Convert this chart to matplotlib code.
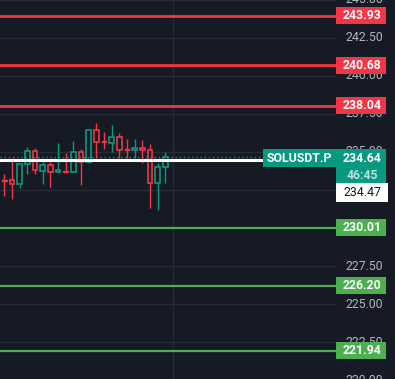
import numpy as np
import matplotlib.pyplot as plt
from matplotlib.patches import Rectangle

# candle data
opens = [233.16, 233.14, 232.88, 234.19, 235.07, 233.77, 234.13, 233.67, 233.80, 233.71, 234.98,
         234.36, 236.44, 235.72, 235.61, 235.97, 235.20, 235.11, 235.24, 235.11, 232.94, 233.99]
closes = [233.12, 232.88, 234.19, 235.07, 233.80, 234.15, 233.71, 233.82, 233.69, 234.98, 234.36,
          236.44, 235.68, 235.71, 235.98, 235.15, 235.19, 235.26, 235.11, 232.94, 233.99, 234.64]
highs = [233.54, 234.59, 234.22, 235.33, 235.26, 234.41, 234.56, 235.59, 234.95, 235.72, 235.20,
         236.44, 236.90, 236.31, 236.77, 236.25, 235.85, 235.85, 235.79, 235.53, 234.26, 234.98]
lows = [232.13, 231.89, 232.66, 233.57, 233.57, 232.92, 232.72, 233.67, 233.69, 233.71, 232.83,
        234.30, 234.59, 235.22, 235.02, 234.63, 234.59, 234.63, 234.30, 231.34, 231.19, 232.94]

# horizontal levels
resistance = [243.93, 240.68, 238.04]
support = [230.01, 226.20, 221.94]
last_price = 234.64
mark_price = 234.47
countdown = "46:45"
symbol = "SOLUSDT.P"
tick_prices = [220.0, 222.5, 225.0, 227.5, 230.0, 232.5, 235.0, 237.5, 240.0, 242.5, 245.0]

BG = "#161a25"
GRID = "#262a35"
RED = "#f23645"
TEAL = "#089981"
LGREEN = "#4caf50"
TXT = "#b2b5be"

W, H = 395, 379
Y0, Y1 = 220.09, 244.98
PPU = H / (Y1 - Y0)  # pixels per price unit

plt.rcParams['font.family'] = ['Roboto', 'DejaVu Sans']

fig = plt.figure(figsize=(W / 100, H / 100), dpi=100, facecolor=BG)
ax = fig.add_axes([0, 0, 336 / W, 1], facecolor=BG)
ax2 = fig.add_axes([336 / W, 0, 59 / W, 1], facecolor=BG)

ax.set_xlim(-0.56, 43.25)
ax.set_ylim(Y0, Y1)
ax2.set_xlim(0, 59)
ax2.set_ylim(Y0, Y1)
for a in (ax, ax2):
    a.set_xticks([])
    a.set_yticks([])
    for s in a.spines.values():
        s.set_visible(False)

# grid
for p in tick_prices:
    ax.axhline(p, color=GRID, lw=1, zorder=0)
ax.axvline(22, color=GRID, lw=1, zorder=0)

# candles
x = np.arange(len(opens))
for i in x:
    o, c, h, l = opens[i], closes[i], highs[i], lows[i]
    col = TEAL if c >= o else RED
    ax.vlines(i, l, h, color=col, lw=1, zorder=2)
    lo, hi = min(o, c), max(o, c)
    if hi - lo < 0.12:
        ax.add_patch(Rectangle((i - 0.32, lo - 0.03), 0.64, max(hi - lo, 0.06),
                               facecolor=col, edgecolor=col, lw=1, zorder=3))
    else:
        ax.add_patch(Rectangle((i - 0.32, lo), 0.64, hi - lo,
                               facecolor=BG, edgecolor=col, lw=1.2, zorder=3))

# levels
for p in resistance:
    ax.axhline(p, color=RED, lw=2, zorder=4)
for p in support:
    ax.axhline(p, color=LGREEN, lw=1.6, zorder=4)

# last / mark price lines
ax.plot([-0.56, 33.8], [mark_price, mark_price], color="white", lw=2.2, zorder=5)
ax.axhline(last_price, color=TEAL, lw=1, ls=(0, (1, 2)), zorder=5)

# price scale tick labels
for p in tick_prices:
    ax2.text(9, p, f"{p:.2f}", color=TXT, fontsize=8.8, va="center", ha="left", zorder=1)

bh = 17 / PPU


def box(p, label, fc, tc="white", bold=True, w=50):
    ax2.add_patch(Rectangle((0, p - bh / 2), w, bh, facecolor=fc, edgecolor="none", zorder=5))
    ax2.text(w / 2 + 1, p, label, color=tc, fontsize=8.8, ha="center", va="center",
             fontweight="bold" if bold else "normal", zorder=6)


for p in resistance:
    box(p, f"{p:.2f}", RED)
for p in support:
    box(p, f"{p:.2f}", LGREEN)

# current price block (price + countdown) and mark price below
top = last_price + 8 / PPU
ax2.add_patch(Rectangle((0, top - 34 / PPU), 50, 34 / PPU, facecolor=TEAL, edgecolor="none", zorder=5))
ax2.text(26, top - 9 / PPU, f"{last_price:.2f}", color="white", fontsize=8.8, ha="center",
         va="center", fontweight="bold", zorder=6)
ax2.text(26, top - 26 / PPU, countdown, color="#b5e3d9", fontsize=8.8, ha="center",
         va="center", fontweight="bold", zorder=6)
mtop = top - 34 / PPU
ax2.add_patch(Rectangle((0, mtop - 19 / PPU), 52, 19 / PPU, facecolor="white", edgecolor="none", zorder=5))
ax2.text(26, mtop - 9.5 / PPU, f"{mark_price:.2f}", color="#131722", fontsize=8.8, ha="center",
         va="center", zorder=6)

# symbol label on the chart
sx0 = (263 - 0) / 7.67 - 0.56
sx1 = 43.25
ax.add_patch(Rectangle((sx0, top - 18 / PPU), sx1 - sx0, 18 / PPU, facecolor=TEAL,
                       edgecolor="none", zorder=6, clip_on=False))
ax.text((sx0 + sx1) / 2, top - 9 / PPU, symbol, color="white", fontsize=8.8, ha="center",
        va="center", fontweight="bold", zorder=7)

fig.savefig("out.png", dpi=100, facecolor=BG)
